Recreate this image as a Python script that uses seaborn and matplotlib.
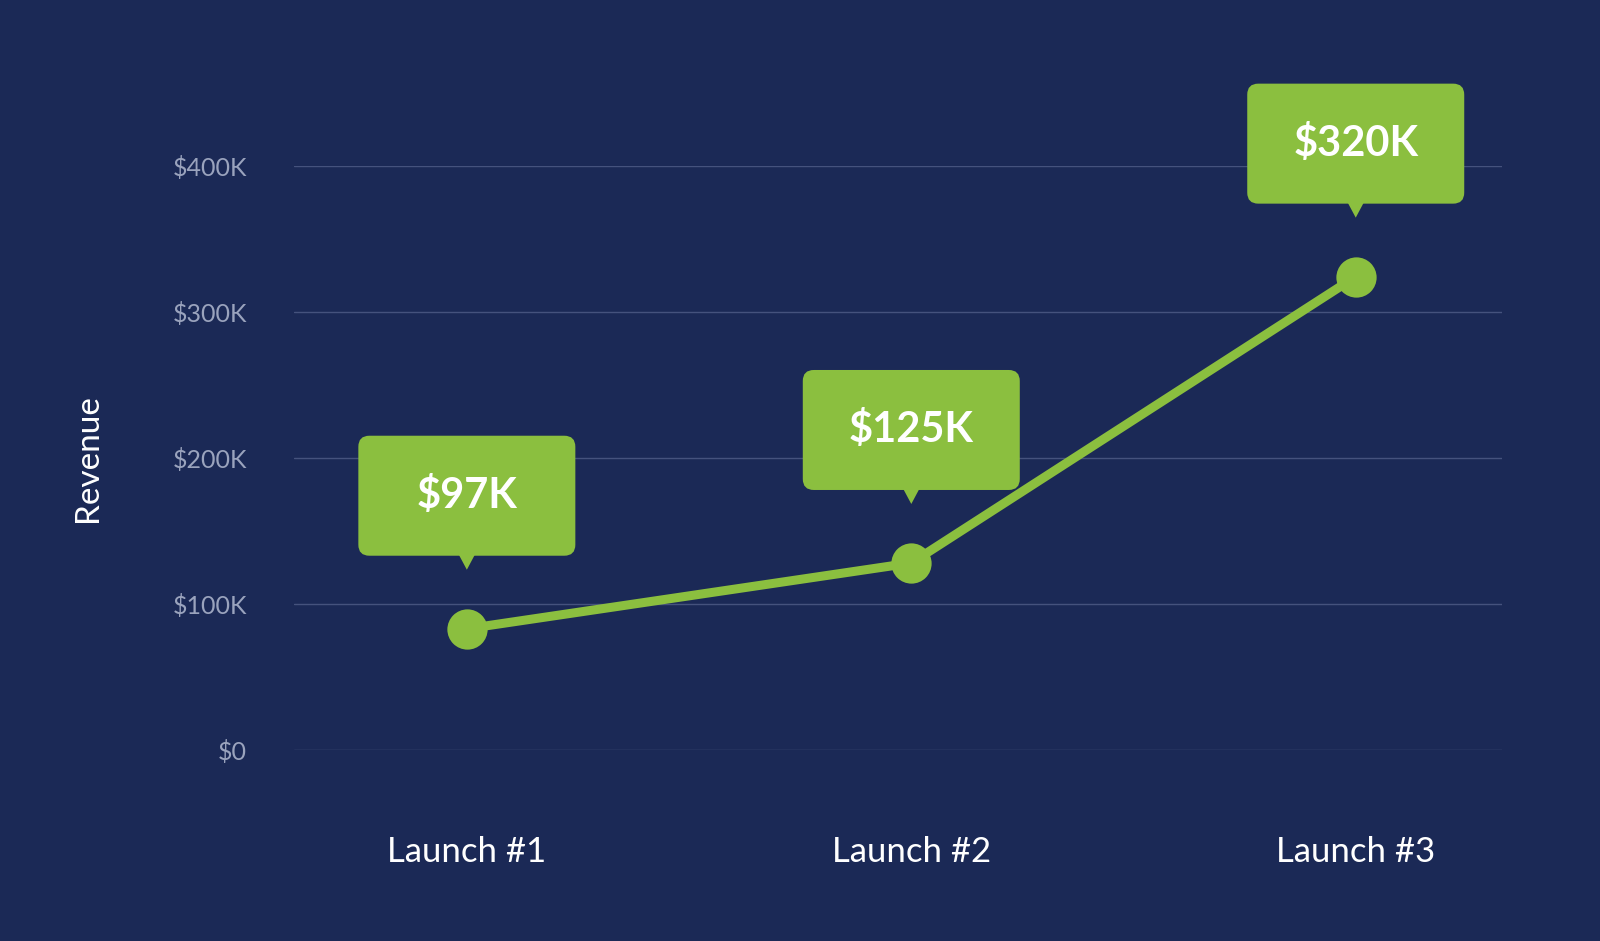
import matplotlib
matplotlib.use("Agg")
import matplotlib.pyplot as plt
import seaborn as sns
import pandas as pd
from matplotlib.patches import FancyBboxPatch, Polygon
from matplotlib.transforms import IdentityTransform

launches = ["Launch #1", "Launch #2", "Launch #3"]
revenue = [83000, 128000, 324000]
labels = ["$97K", "$125K", "$320K"]
yticks = [0, 100000, 200000, 300000, 400000]
ytick_labels = ["$0", "$100K", "$200K", "$300K", "$400K"]

BG = "#1b2956"
GREEN = "#8bbf3f"
sns.set_style("dark")
plt.rcParams["font.family"] = ["Lato", "DejaVu Sans"]

fig = plt.figure(figsize=(16, 9.41), dpi=100, facecolor=BG)
ax = fig.add_axes([0.184, 0.203, 0.755, 0.621])
ax.set_facecolor(BG)

df = pd.DataFrame({"x": range(len(launches)), "y": revenue})
sns.lineplot(data=df, x="x", y="y", ax=ax, color=GREEN, linewidth=6.5,
             marker="o", markersize=29, markeredgewidth=0, clip_on=False, zorder=5)

ax.set_xlim(-0.388, 2.33)
ax.set_ylim(0, 400000)
ax.set_yticks(yticks)
ax.set_yticklabels(ytick_labels, color="#9aa3bd", fontsize=18)
ax.set_xticks(range(len(launches)))
ax.set_xticklabels(launches, color="white", fontsize=25)
ax.tick_params(axis="y", length=0, pad=34)
ax.tick_params(axis="x", length=0, pad=62)
ax.grid(axis="y", color="#45527d", linewidth=1)
ax.grid(axis="x", visible=False)
for s in ax.spines.values():
    s.set_visible(False)
ax.set_xlabel("")
ax.set_ylabel("Revenue", color="white", fontsize=24, labelpad=50)

fig.canvas.draw()
w, h, gap, tail = 217, 120, 73, 14
for i, (v, lab) in enumerate(zip(revenue, labels)):
    px, py = ax.transData.transform((i, v))
    bottom = py + gap
    box = FancyBboxPatch((px - w / 2, bottom), w, h,
                         boxstyle="round,pad=0,rounding_size=11",
                         transform=IdentityTransform(), facecolor=GREEN,
                         edgecolor="none", clip_on=False, zorder=6)
    fig.patches.append(box)
    tri = Polygon([(px - 8, bottom + 1), (px + 8, bottom + 1), (px, bottom - tail)],
                  closed=True, transform=IdentityTransform(), facecolor=GREEN,
                  edgecolor="none", zorder=6)
    fig.patches.append(tri)
    fig.text(px / fig.bbox.width, (bottom + h / 2) / fig.bbox.height, lab,
             ha="center", va="center", color="white", fontsize=30,
             fontweight="bold", zorder=7)

fig.savefig("out.png", dpi=100, facecolor=BG)
